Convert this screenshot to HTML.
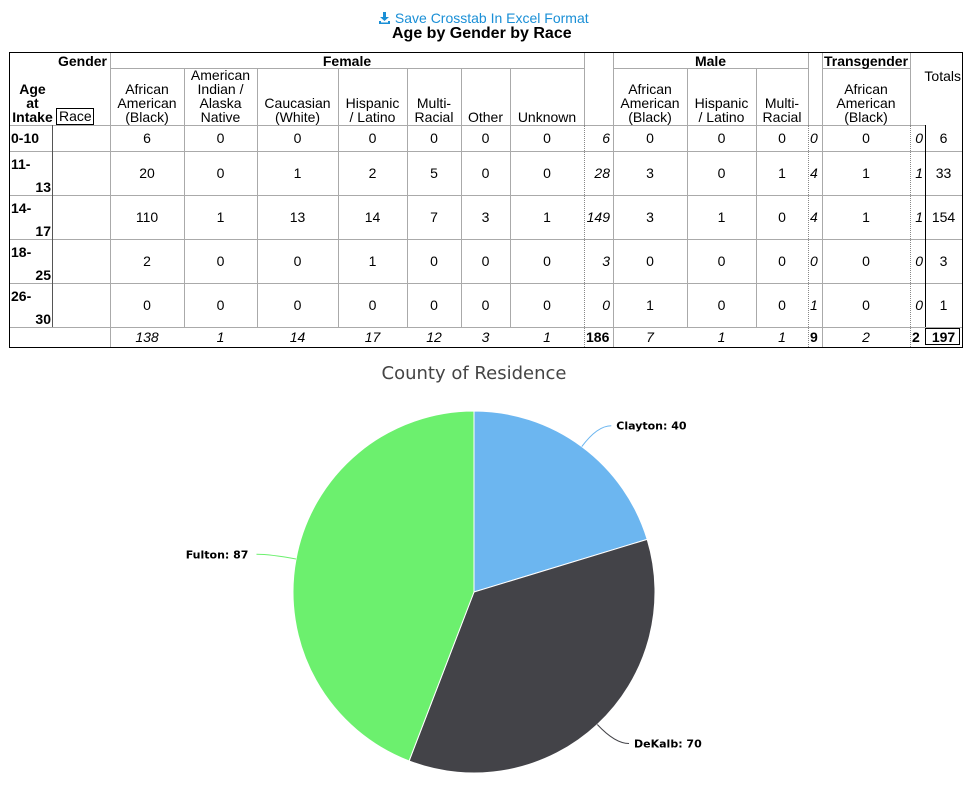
<!DOCTYPE html>
<html><head><meta charset="utf-8">
<style>
body{margin:0;background:#fff;width:967px;height:785px;position:relative;overflow:hidden;font-family:"Liberation Sans",Arial,sans-serif;color:#000}
.a{position:absolute;box-sizing:border-box}
.t{position:absolute;font-size:14px;line-height:14px;white-space:nowrap}
.c{text-align:center}
.hl{position:absolute;height:1px;background:#aaa}
.vl{position:absolute;width:1px;background:#aaa}
.dv{position:absolute;width:0;border-left:1px dotted #888}
</style></head><body>
<div class="t" style="left:378px;top:11px;color:#1a8fd6;font-size:14px">
<svg width="13" height="13" viewBox="0 0 13 13" style="vertical-align:-1px"><path d="M5 1h3v5h3l-4.5 4-4.5-4h3z M1 10h2v1.5h7V10h2v3H1z" fill="#1a8fd6"/></svg> Save Crosstab In Excel Format</div>
<div class="t" style="left:392px;top:26px;font-weight:bold;font-size:16px;line-height:16px">Age by Gender by Race</div>
<div id="tbl"></div>
<svg id="pie" width="967" height="785" style="position:absolute;left:0;top:0" xmlns="http://www.w3.org/2000/svg"></svg>
<script>
const X=[9,52,110,184,257,338,407,461,510,584,613,687,756,808,822,910,925,962];
const Y=[52,68,125,151,195,239,283,327,347];
const ages=[["0-10",""],["11-","13"],["14-","17"],["18-","25"],["26-","30"]];
const femaleVals=[[6,0,0,0,0,0,0],[20,0,1,2,5,0,0],[110,1,13,14,7,3,1],[2,0,0,1,0,0,0],[0,0,0,0,0,0,0]];
const maleVals=[[0,0,0],[3,0,1],[3,1,0],[0,0,0],[1,0,0]];
const transVals=[[0],[1],[1],[0],[0]];
const femaleHdr=["African<br>American<br>(Black)","American<br>Indian /<br>Alaska<br>Native","Caucasian<br>(White)","Hispanic<br>/ Latino","Multi-<br>Racial","Other","Unknown"];
const maleHdr=["African<br>American<br>(Black)","Hispanic<br>/ Latino","Multi-<br>Racial"];
const transHdr=["African<br>American<br>(Black)"];
const T=document.getElementById('tbl');
function el(cls,st,html){const d=document.createElement('div');d.className=cls;d.style.cssText=st;if(html!==undefined)d.innerHTML=html;T.appendChild(d);return d;}
function txt(x1,x2,y,html,extra,name){const d=el('t c',`left:${x1}px;width:${x2-x1}px;top:${y}px;${extra||''}`,html);

return d;}
[Y[3],Y[4],Y[5],Y[6],Y[7]].forEach(y=>el('hl',`left:${X[0]}px;top:${y}px;width:${X[17]-X[0]}px`));
el('hl',`left:${X[2]}px;top:${Y[1]}px;width:${X[9]-X[2]}px`);
el('hl',`left:${X[10]}px;top:${Y[1]}px;width:${X[13]-X[10]}px`);
el('hl',`left:${X[14]}px;top:${Y[1]}px;width:${X[15]-X[14]}px`);
el('hl',`left:${X[0]}px;top:${Y[2]}px;width:${X[16]-X[0]}px`);
[2,3,4,5,6,7,8,11,12].forEach(i=>el('vl',`left:${X[i]}px;top:${Y[1]}px;height:${Y[7]-Y[1]}px`));
el('vl',`left:${X[1]}px;top:${Y[2]}px;height:${Y[7]-Y[2]}px`);
[2,9,10,13,14,15].forEach(i=>el('vl',`left:${X[i]}px;top:${Y[0]}px;height:${Y[2]-Y[0]}px`));
el('vl',`left:${X[2]}px;top:${Y[0]}px;height:${Y[8]-Y[0]}px`);
[9,13,15].forEach(i=>el('dv',`left:${X[i]}px;top:${Y[2]}px;height:${Y[8]-Y[2]}px`));
el('vl',`left:${X[10]}px;top:${Y[2]}px;height:${Y[8]-Y[2]}px`);
el('vl',`left:${X[14]}px;top:${Y[2]}px;height:${Y[8]-Y[2]}px`);
el('a',`left:${X[1]}px;top:${Y[2]}px;width:1px;height:${Y[7]-Y[2]}px;background:#555`);
el('a',`left:${X[16]}px;top:${Y[2]}px;width:1px;height:${Y[7]-Y[2]}px;background:#000`);
el('a',`left:${X[16]}px;top:${Y[7]+1}px;width:${X[17]-X[16]-2}px;height:${Y[8]-Y[7]-3}px;border:1px solid #000`);
el('a',`left:${X[0]}px;top:${Y[0]}px;width:${X[17]-X[0]+1}px;height:${Y[8]-Y[0]+1}px;border:1px solid #000`);
txt(X[1],X[2]-3,Y[0]+2,"Gender","font-weight:bold;text-align:right","gender-header");
txt(X[2],X[9],Y[0]+2,"Female","font-weight:bold","female-header");
txt(X[10],X[13],Y[0]+2,"Male","font-weight:bold","male-header");
txt(X[14],X[15],Y[0]+2,"Transgender","font-weight:bold","transgender-header");
txt(X[15],X[17]-1,Y[0]+17,"Totals","text-align:right","totals-header");
txt(X[0],X[1]+4,Y[1]+14,"Age<br>at<br>Intake","font-weight:bold;line-height:14px","age-at-intake-header");
const rb=el('a',`left:56px;top:108px;width:38px;height:17px;border:1px solid #000;font-size:14px;line-height:14px;padding-left:2px`,"Race");


function hdr(list,start){list.forEach((h,i)=>{const n=(h.match(/<br>/g)||[]).length+1;txt(X[start+i],X[start+i+1],Y[2]-1-n*14,h,"","race-header");});}
hdr(femaleHdr,2);hdr(maleHdr,10);hdr(transHdr,14);
ages.forEach((a,r)=>{
 const y0=Y[r+2],y1=Y[r+3],mid=(y0+y1)/2-7;
 if(a[1]===""){txt(X[0]+2,X[1],mid,a[0],"font-weight:bold;text-align:left","age-label");}
 else{txt(X[0]+2,X[1],y0+6,a[0],"font-weight:bold;text-align:left","age-label");txt(X[0],X[1]-1,y1-15,a[1],"font-weight:bold;text-align:right","age-label");}
 let fs=0,ms=0,ts=0;
 femaleVals[r].forEach((v,i)=>{fs+=v;txt(X[2+i],X[3+i],mid,v,"","female-value");});
 maleVals[r].forEach((v,i)=>{ms+=v;txt(X[10+i],X[11+i],mid,v,"","male-value");});
 transVals[r].forEach((v,i)=>{ts+=v;txt(X[14+i],X[15+i],mid,v,"","trans-value");});
 txt(X[9],X[10]-3,mid,fs,"font-style:italic;text-align:right","female-subtotal");
 txt(X[13]+2,X[14],mid,ms,"font-style:italic;text-align:left","male-subtotal");
 txt(X[15],X[16]-2,mid,ts,"font-style:italic;text-align:right","trans-subtotal");
 txt(X[16],X[17],mid,fs+ms+ts,"","row-total");
});
const ty=Y[7]+3;let F=0,M=0,TT=0;
for(let i=0;i<7;i++){let s=0;femaleVals.forEach(r=>s+=r[i]);F+=s;txt(X[2+i],X[3+i],ty,s,"font-style:italic","female-column-total");}
for(let i=0;i<3;i++){let s=0;maleVals.forEach(r=>s+=r[i]);M+=s;txt(X[10+i],X[11+i],ty,s,"font-style:italic","male-column-total");}
{let s=0;transVals.forEach(r=>s+=r[0]);TT=s;txt(X[14],X[15],ty,s,"font-style:italic","trans-column-total");}
txt(X[9]+2,X[10],ty,F,"font-weight:bold;text-align:left","female-grand-total");
txt(X[13]+2,X[14],ty,M,"font-weight:bold;text-align:left","male-grand-total");
txt(X[15]+2,X[16],ty,TT,"font-weight:bold;text-align:left","trans-grand-total");
txt(X[16],X[17],ty,F+M+TT,"font-weight:bold","grand-total");

const counties=["Clayton","DeKalb","Fulton"];
const counts=[40,70,87];
const colors=["#6cb6f0","#434348","#6cf06e"];
const S=document.getElementById('pie');const NS="http://www.w3.org/2000/svg";
const cx=474,cy=592,R=181;
function mk(tag,attrs){const e=document.createElementNS(NS,tag);for(const k in attrs)e.setAttribute(k,attrs[k]);S.appendChild(e);return e;}
const title=mk('text',{x:cx,y:379,'text-anchor':'middle','font-size':18,fill:'#444','font-family':'"DejaVu Sans","Liberation Sans",sans-serif'});
title.textContent="County of Residence";


const tot=counts.reduce((a,b)=>a+b,0);let ang=0;
counts.forEach((v,i)=>{
 const a0=ang,a1=ang+v/tot*2*Math.PI;ang=a1;
 const p=a=>[cx+R*Math.sin(a),cy-R*Math.cos(a)];
 const [x0,y0]=p(a0),[x1,y1]=p(a1);
 const sl=mk('path',{d:`M${cx},${cy}L${x0},${y0}A${R},${R} 0 ${a1-a0>Math.PI?1:0} 1 ${x1},${y1}Z`,fill:colors[i],stroke:'#fff','stroke-width':1});
 
 
 const am=(a0+a1)/2,s=Math.sin(am),c=-Math.cos(am);
 const ex=cx+R*s,ey=cy+R*c,ox=cx+(R+26)*s,oy=cy+(R+26)*c;
 const right=s>=0,lx=ox+(right?14:-14);
 mk('path',{d:`M${ex},${ey}Q${ox},${oy} ${lx},${oy}`,fill:'none',stroke:colors[i],'stroke-width':1});
 const lb=mk('text',{x:lx+(right?5:-8),y:oy+4,'text-anchor':right?'start':'end','font-size':11,'font-weight':'bold',fill:'#000','font-family':'"DejaVu Sans","Liberation Sans",sans-serif'});
 lb.textContent=counties[i]+": "+v;
 
 
});
</script>
</body></html>
